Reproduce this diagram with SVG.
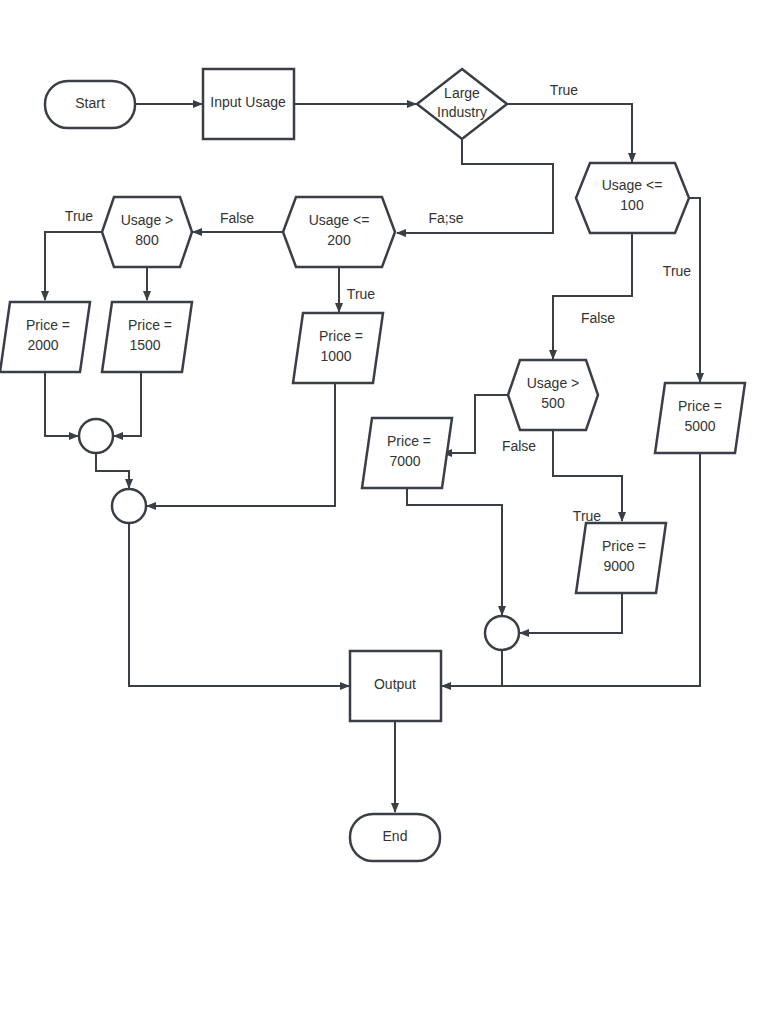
<svg xmlns="http://www.w3.org/2000/svg" width="768" height="1024" viewBox="0 0 768 1024">
<defs>
<marker id="a" markerWidth="10" markerHeight="8" refX="9" refY="4" orient="auto" markerUnits="userSpaceOnUse"><path d="M0,0 L10,4 L0,8 Z" fill="#3a3f47"/></marker>
<style>
.s{fill:#fff;stroke:#3a3f47;stroke-width:2.5}
.c{fill:none;stroke:#3a3f47;stroke-width:2;marker-end:url(#a)}
.l{fill:none;stroke:#3a3f47;stroke-width:2}
text{font-family:"Liberation Sans",Arial,sans-serif;font-size:14px;fill:#333;text-anchor:middle}
</style>
</defs>
<rect width="768" height="1024" fill="#fff"/>
<g id="connectors">
<path class="c" d="M135,104 H202"/>
<path class="c" d="M294,104 H416"/>
<path class="c" d="M507,104 H632 V162"/>
<path class="c" d="M462,139 V164 H553 V233 H397"/>
<path class="c" d="M632,233 V296 H553 V359"/>
<path class="c" d="M689,198 H700 V382"/>
<path class="c" d="M700,453 V686 H442"/>
<path class="c" d="M508,395 H475 V453 H443"/>
<path class="c" d="M553,430 V476 H622 V521"/>
<path class="c" d="M407,488 V505 H502 V615"/>
<path class="c" d="M622,593 V633 H520"/>
<path class="l" d="M502,650 V686"/>
<path class="c" d="M395,721 V812"/>
<path class="c" d="M283,232 H193"/>
<path class="c" d="M339,267 V312"/>
<path class="c" d="M335,383 V506 H147"/>
<path class="c" d="M102,232 H45 V300"/>
<path class="c" d="M147,267 V300"/>
<path class="c" d="M45,372 V436 H78"/>
<path class="c" d="M141,372 V436 H114"/>
<path class="c" d="M96,453 V471 H129 V488"/>
<path class="c" d="M129,523 V686 H349"/>
<text x="564" y="95">True</text>
<text x="446" y="223">Fa;se</text>
<text x="598" y="323">False</text>
<text x="677" y="276">True</text>
<text x="519" y="451">False</text>
<text x="587" y="521">True</text>
<text x="237" y="223">False</text>
<text x="361" y="299">True</text>
<text x="79" y="221">True</text>
</g>
<g id="start"><rect class="s" x="45" y="81" width="90" height="47" rx="23"/><text x="90" y="108">Start</text></g>
<g id="input"><rect class="s" x="203" y="69" width="91" height="70"/><text x="248" y="107">Input Usage</text></g>
<g id="large"><polygon class="s" points="462,69 507,104 462,139 417,104"/><text x="462" y="98">Large</text><text x="462" y="117">Industry</text></g>
<g id="u100"><polygon class="s" points="590,163 675,163 689,198 675,233 590,233 576,198"/><text x="632" y="190">Usage &lt;=</text><text x="632" y="210">100</text></g>
<g id="p5000"><polygon class="s" points="665,383 745,383 735,453 655,453"/><text x="700" y="411">Price =</text><text x="700" y="431">5000</text></g>
<g id="u500"><polygon class="s" points="520,360 586,360 598,395 586,430 520,430 508,395"/><text x="553" y="388">Usage &gt;</text><text x="553" y="408">500</text></g>
<g id="p7000"><polygon class="s" points="372,418 452,418 442,488 362,488"/><text x="409" y="446">Price =</text><text x="405" y="466">7000</text></g>
<g id="p9000"><polygon class="s" points="586,523 666,523 656,593 576,593"/><text x="624" y="551">Price =</text><text x="619" y="571">9000</text></g>
<g id="c3"><circle class="s" cx="502" cy="633" r="17"/></g>
<g id="output"><rect class="s" x="350" y="651" width="91" height="70"/><text x="395" y="689">Output</text></g>
<g id="end"><rect class="s" x="350" y="814" width="90" height="47" rx="23"/><text x="395" y="841">End</text></g>
<g id="u200"><polygon class="s" points="296,197 382,197 395,232 382,267 296,267 283,232"/><text x="339" y="225">Usage &lt;=</text><text x="339" y="245">200</text></g>
<g id="p1000"><polygon class="s" points="303,313 383,313 373,383 293,383"/><text x="341" y="341">Price =</text><text x="336" y="361">1000</text></g>
<g id="u800"><polygon class="s" points="114,197 180,197 192,232 180,267 114,267 102,232"/><text x="147" y="225">Usage &gt;</text><text x="147" y="245">800</text></g>
<g id="p2000"><polygon class="s" points="10,302 90,302 80,372 0,372"/><text x="48" y="330">Price =</text><text x="43" y="350">2000</text></g>
<g id="p1500"><polygon class="s" points="112,302 192,302 182,372 102,372"/><text x="150" y="330">Price =</text><text x="145" y="350">1500</text></g>
<g id="c1"><circle class="s" cx="96" cy="436" r="17"/></g>
<g id="c2"><circle class="s" cx="129" cy="506" r="17"/></g>
</svg>
